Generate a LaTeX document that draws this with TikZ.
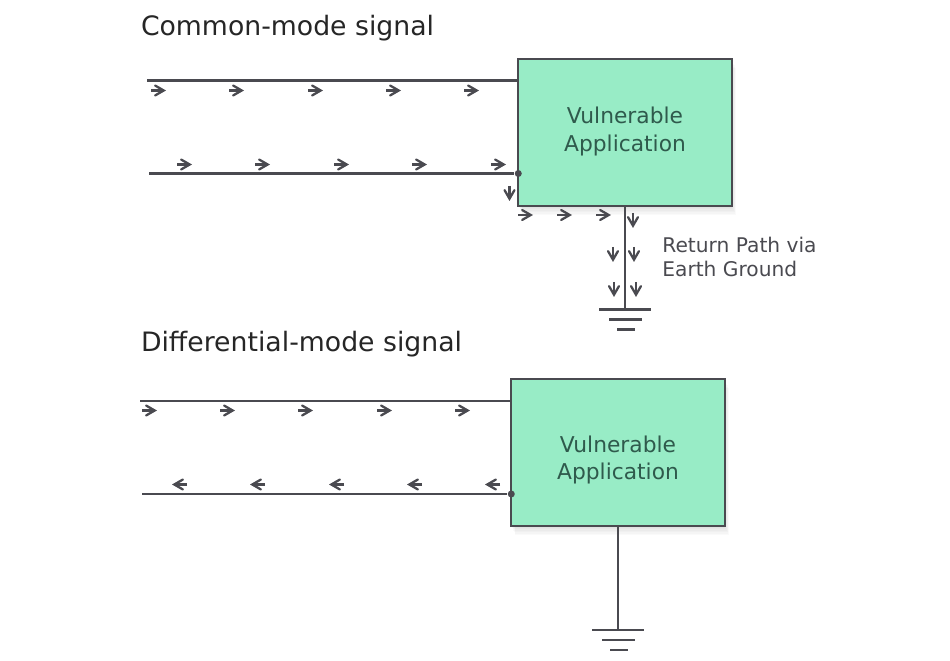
\documentclass[tikz,border=0pt]{standalone}
\usepackage{fontspec}
\setmainfont{DejaVu Sans}
\usepackage{color}
\usetikzlibrary{arrows}
\usetikzlibrary{calc}
\usetikzlibrary{positioning}
\definecolor{boxgreen}{HTML}{98ECC6}
\definecolor{wiregray}{HTML}{4A4A50}
\definecolor{boxtext}{HTML}{2F5A4C}

\begin{document}
\begin{tikzpicture}[x=0.02cm,y=-0.02cm]

\tikzstyle{wire}=[wiregray,line width=1.25pt]
\tikzstyle{flow}=[wiregray,line width=1.3pt,->,>=angle 60]
\tikzstyle{heading}=[anchor=west,inner sep=0pt,outer sep=0pt,font=\fontsize{15.2pt}{18pt}\selectfont,text=black!85]
\tikzstyle{app}=[draw=wiregray,fill=boxgreen,line width=1.25pt,minimum width=4.27cm,minimum height=2.94cm,inner sep=0pt,outer sep=0pt]
\tikzstyle{apptext}=[align=center,text=boxtext,inner sep=0pt,font=\fontsize{12.4pt}{15.4pt}\selectfont]
\tikzstyle{junction}=[circle,fill=wiregray,minimum size=4pt,inner sep=0pt]
\tikzstyle{haze}=[black,opacity=0.02,minimum width=4.27cm,minimum height=2.94cm,inner sep=0pt,fill]

\useasboundingbox (0,0) rectangle (950,661);

% SHADOWS
\foreach \s in {1,...,6} {
  \node [haze,xshift=0.4*\s,yshift=-0.9*\s] (hazeA\s) at (625,132.5) {};
  \node [haze,xshift=0.4*\s,yshift=-0.9*\s] (hazeB\s) at (618,452.5) {};
}

% COMMON-MODE
\node [heading] (commonlabel) at (141,28) {Common-mode signal};
\node [app] (appA) at (625,132.5) {};
\node [apptext] (appAtext) at (625,131.5) {Vulnerable\\Application};
\coordinate (lineAa) at (147,80.5);
\coordinate (lineAb) at (149,173.5);
\node [junction] (dotA) at (appA.west |- lineAb) {};
\draw [wire] (lineAa) -- (appA.west |- lineAa);
\draw [wire] (lineAb) -- (dotA);

% GROUND
\coordinate (groundA) at (625,309.5);
\draw [wire] (appA.south) -- (groundA);
\draw [wire] ($(groundA)+(-26,0)$) -- ($(groundA)+(26,0)$);
\draw [wire] ($(groundA)+(-16,10)$) -- ($(groundA)+(17,10)$);
\draw [wire] ($(groundA)+(-8,20)$) -- ($(groundA)+(10,20)$);

% ARROWS
\foreach \x in {151,229,308,386,464} \draw [flow] (\x,90.5) -- ++(15,0);
\foreach \x in {177,255,334,412,491} \draw [flow] (\x,164.5) -- ++(15,0);
\foreach \x in {518,557,596} \draw [flow] (\x,215) -- ++(15,0);
\foreach \x/\y in {509.5/186,633/213,613/247,634/247,614/282,636/282} \draw [flow] (\x,\y) -- ++(0,15);

\node [anchor=west,inner sep=0pt,align=left,text=wiregray,font=\fontsize{11.5pt}{13.7pt}\selectfont] (returnlabel) at (662,257) {Return Path via\\Earth Ground};

% DIFFERENTIAL-MODE
\node [heading] (difflabel) at (141,344) {Differential-mode signal};
\node [app] (appB) at (618,452.5) {};
\node [apptext] (appBtext) at (618,460) {Vulnerable\\Application};
\coordinate (lineBa) at (140,401);
\coordinate (lineBb) at (142,494);
\node [junction] (dotB) at (appB.west |- lineBb) {};
\draw [wire] (lineBa) -- (appB.west |- lineBa);
\draw [wire] (lineBb) -- (dotB);

% GROUND
\coordinate (groundB) at (618,630);
\draw [wire] (appB.south) -- (groundB);
\draw [wire] ($(groundB)+(-26,0)$) -- ($(groundB)+(26,0)$);
\draw [wire] ($(groundB)+(-16,10)$) -- ($(groundB)+(17,10)$);
\draw [wire] ($(groundB)+(-8,20)$) -- ($(groundB)+(10,20)$);

% ARROWS
\foreach \x in {142,220,298,377,455} \draw [flow] (\x,410.5) -- ++(15,0);
\foreach \x in {187,265,344,422,500} \draw [flow] (\x,484.5) -- ++(-15,0);

\end{tikzpicture}
\end{document}
